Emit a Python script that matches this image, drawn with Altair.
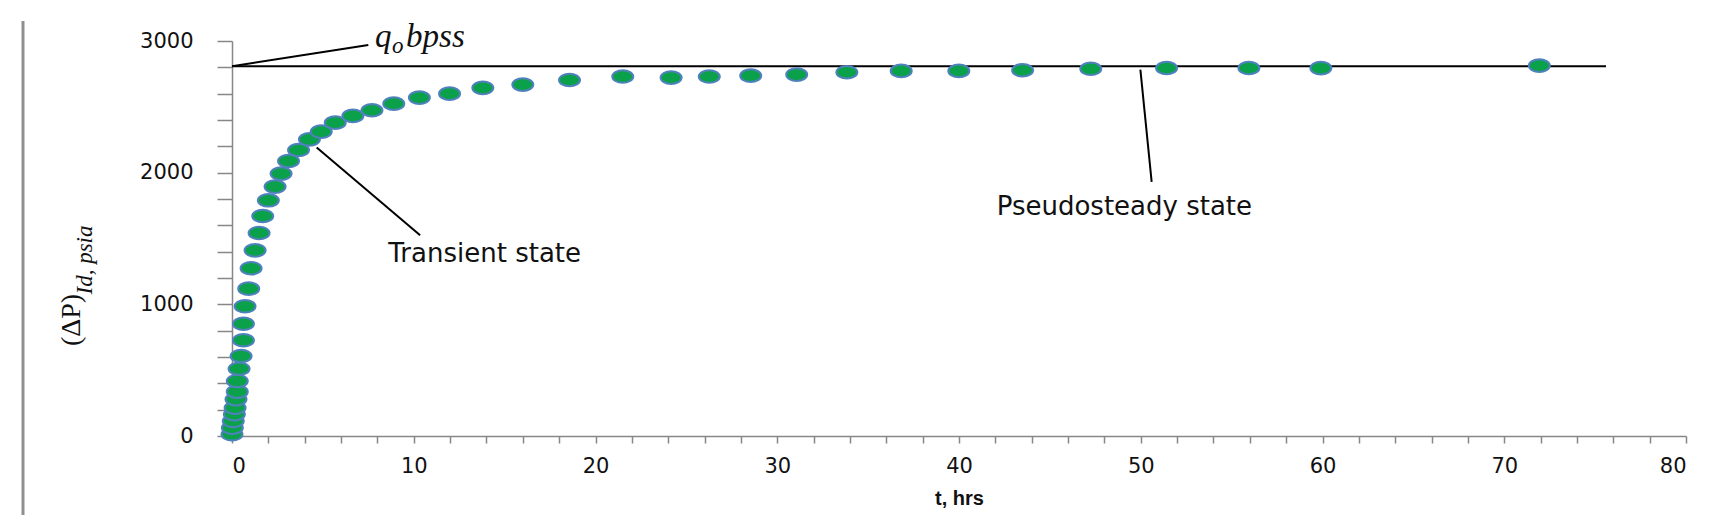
import altair as alt
import pandas as pd

# ---- data ----
t_hrs = [0.00, 0.02, 0.07, 0.13, 0.17, 0.22, 0.29, 0.29, 0.39, 0.50, 0.63, 0.63,
         0.72, 0.92, 1.05, 1.27, 1.49, 1.69, 2.00, 2.37, 2.70, 3.11, 3.66, 4.26,
         4.91, 5.68, 6.65, 7.70, 8.90, 10.31, 11.97, 13.80, 16.00, 18.57, 21.50,
         24.16, 26.26, 28.54, 31.07, 33.83, 36.82, 39.99, 43.50, 47.25, 51.42,
         55.95, 59.91, 71.93]
dp_psia = [13, 63, 114, 165, 215, 279, 337, 418, 511, 608, 727, 853,
           985, 1119, 1274, 1410, 1542, 1671, 1790, 1894, 1993, 2089, 2172, 2253,
           2312, 2380, 2431, 2474, 2524, 2570, 2600, 2644, 2669, 2704, 2730,
           2722, 2730, 2737, 2745, 2763, 2773, 2773, 2778, 2789, 2795,
           2795, 2794, 2813]

x_ticks = list(range(0, 81, 2))
y_ticks = list(range(0, 3001, 200))

pss_t = [0.0]
pss_t_end = [75.6]
pss_dp = [2808]

leader_t = [0.0, 4.66, 49.98]
leader_dp = [2808, 2191, 2783]
leader_t2 = [7.5, 10.35, 50.6]
leader_dp2 = [2970, 1525, 1930]

note_t = [13.9, 49.1]
note_dp = [1323, 1677]
note_text = ["Transient state", "Pseudosteady state"]

qo_t = [7.87]
qo_dp = [2955]

ytitle_main = ["(ΔP)"]
ytitle_sub = ["Id, psia"]

AXIS_GRAY = "#878787"

x_scale = alt.Scale(domain=[0, 80], nice=False, zero=False)
y_scale = alt.Scale(domain=[0, 3000], nice=False)

x_axis = alt.Axis(values=x_ticks,
                  labelExpr="datum.value % 10 === 0 ? datum.label : ''",
                  format="d", labelOverlap=False, grid=False,
                  tickSize=7, tickWidth=1.5, tickColor=AXIS_GRAY,
                  domainColor=AXIS_GRAY, domainWidth=1.5,
                  labelFont="DejaVu Sans", labelFontSize=21, labelColor="#111111",
                  labelPadding=12,
                  title="t, hrs", titleFont="Liberation Sans", titleFontSize=20,
                  titleFontWeight="bold", titleColor="#111111", titlePadding=12)
y_axis = alt.Axis(values=y_ticks,
                  labelExpr="datum.value % 1000 === 0 ? datum.label : ''",
                  format="d", labelOverlap=False, grid=False,
                  tickSize=15, tickWidth=1.5, tickColor=AXIS_GRAY,
                  domainColor=AXIS_GRAY, domainWidth=1.5,
                  labelFont="DejaVu Sans", labelFontSize=21, labelColor="#111111",
                  labelPadding=24, title="")


def X(field="t"):
    return alt.X(f"{field}:Q", scale=x_scale, axis=x_axis)


def Y(field="dp"):
    return alt.Y(f"{field}:Q", scale=y_scale, axis=y_axis)


ellipse = ("M -1 0 C -1 -0.331 -0.552 -0.6 0 -0.6 C 0.552 -0.6 1 -0.331 1 0 "
           "C 1 0.331 0.552 0.6 0 0.6 C -0.552 0.6 -1 0.331 -1 0 Z")

pts = alt.Chart(pd.DataFrame({"t": t_hrs, "dp": dp_psia})).mark_point(
    shape=ellipse, filled=True, fill="#0BA14B", stroke="#4F81BD",
    strokeWidth=2, size=441, opacity=1
).encode(x=X(), y=Y())

pss_line = alt.Chart(pd.DataFrame({"t": pss_t, "t2": pss_t_end, "dp": pss_dp})).mark_rule(
    color="black", strokeWidth=2
).encode(x=X(), x2="t2:Q", y=Y())

leaders = alt.Chart(pd.DataFrame({"t": leader_t, "dp": leader_dp,
                                  "t2": leader_t2, "dp2": leader_dp2})).mark_rule(
    color="black", strokeWidth=2
).encode(x=X(), y=Y(), x2="t2:Q", y2="dp2:Q")

notes = alt.Chart(pd.DataFrame({"t": note_t, "dp": note_dp, "label": note_text})).mark_text(
    font="DejaVu Sans", fontSize=26, color="#111111", align="center", baseline="alphabetic"
).encode(x=X(), y=Y(), text="label:N")

qo_df = pd.DataFrame({"t": qo_t, "dp": qo_dp})
q_txt = alt.Chart(qo_df).mark_text(
    text="q", font="Liberation Serif", fontStyle="italic", fontSize=33,
    align="left", baseline="alphabetic", color="#111111"
).encode(x=X(), y=Y())
o_txt = alt.Chart(qo_df).mark_text(
    text="o", font="Liberation Serif", fontStyle="italic", fontSize=23,
    align="left", baseline="alphabetic", dx=17, dy=6, color="#111111"
).encode(x=X(), y=Y())
bpss_txt = alt.Chart(qo_df).mark_text(
    text="bpss", font="Liberation Serif", fontStyle="italic", fontSize=33,
    align="left", baseline="alphabetic", dx=31, color="#111111"
).encode(x=X(), y=Y())

yt_main = alt.Chart(pd.DataFrame({"label": ytitle_main})).mark_text(
    font="Liberation Serif", fontSize=28, angle=270, align="center",
    baseline="middle", color="#111111"
).encode(x=alt.value(-160), y=alt.value(279), text="label:N")
yt_sub = alt.Chart(pd.DataFrame({"label": ytitle_sub})).mark_text(
    font="Liberation Serif", fontStyle="italic", fontSize=23, angle=270,
    align="center", baseline="middle", color="#111111"
).encode(x=alt.value(-147), y=alt.value(219), text="label:N")

frame_bar = alt.Chart(pd.DataFrame({"k": [0]})).mark_rule(
    color="#8F8F8F", strokeWidth=3
).encode(x=alt.value(-209), y=alt.value(-20), y2=alt.value(480))

chart = alt.layer(
    frame_bar, pss_line, leaders, pts, notes, q_txt, o_txt, bpss_txt, yt_main, yt_sub
).properties(
    width=1454, height=395,
    autosize=alt.AutoSizeParams(type="none"),
    padding={"left": 224, "top": 33, "right": 20, "bottom": 79},
    background="white"
).configure_view(stroke=None)

chart.save("out.html", embed_options={"renderer": "svg", "actions": False})
